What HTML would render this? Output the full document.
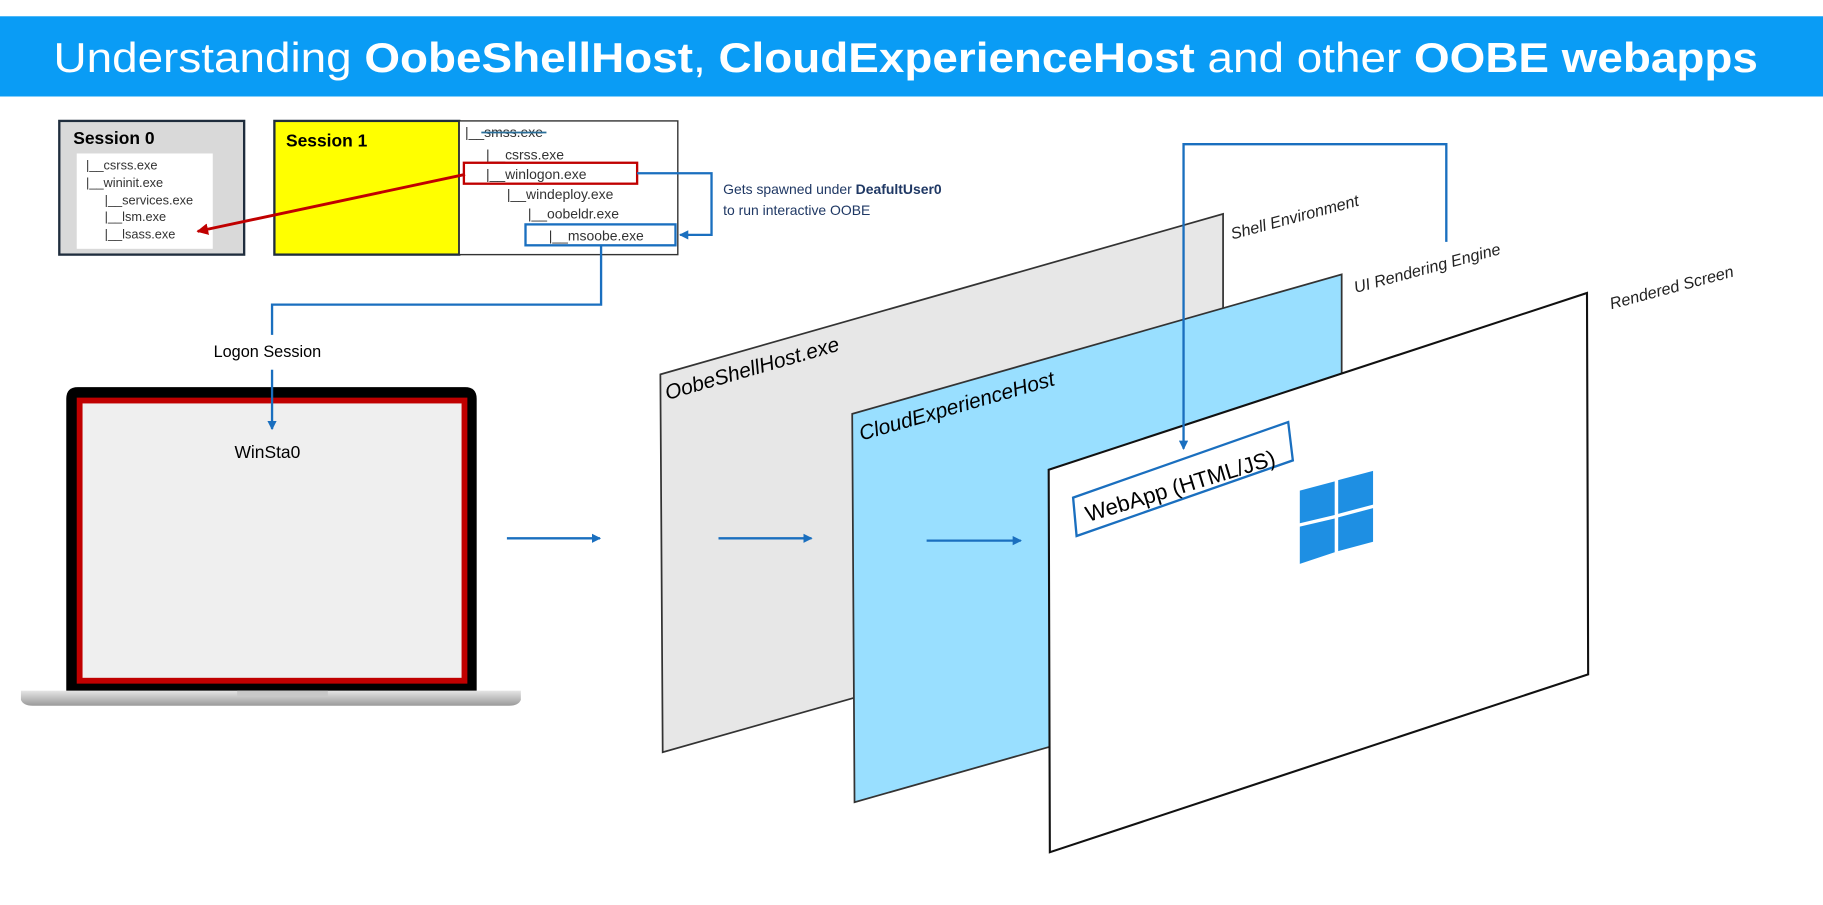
<!DOCTYPE html>
<html><head><meta charset="utf-8"><style>html,body{margin:0;padding:0;background:#fff;overflow:hidden}svg{display:block}text{font-family:"Liberation Sans",Arial,sans-serif}</style></head>
<body>
<svg width="1823" height="905" viewBox="0 0 1568 778.4" preserveAspectRatio="none" xmlns="http://www.w3.org/2000/svg">
<defs>
<marker id="ab" markerWidth="8" markerHeight="8" refX="7" refY="4" orient="auto" markerUnits="userSpaceOnUse"><path d="M0,0 L8,4 L0,8 z" fill="#1a6fbf"/></marker>
<marker id="ar" markerWidth="10" markerHeight="10" refX="9" refY="5" orient="auto" markerUnits="userSpaceOnUse"><path d="M0,0 L10,5 L0,10 z" fill="#c00000"/></marker>
<linearGradient id="base" x1="0" y1="0" x2="0" y2="1"><stop offset="0" stop-color="#e6e6e6"/><stop offset="1" stop-color="#9a9a9a"/></linearGradient>
</defs>
<rect x="0" y="14" width="1568" height="69" fill="#0a9cf5"/>
<text x="779" y="62" font-size="36" fill="#fff" text-anchor="middle" textLength="1466" lengthAdjust="spacingAndGlyphs">Understanding <tspan font-weight="bold">OobeShellHost</tspan>, <tspan font-weight="bold">CloudExperienceHost</tspan> and other <tspan font-weight="bold">OOBE webapps</tspan></text>

<rect x="51" y="104" width="159" height="115" fill="#d9d9d9" stroke="#1f2d3d" stroke-width="2"/>
<text x="63" y="124" font-size="15" font-weight="bold">Session 0</text>
<rect x="66" y="132" width="117" height="82" fill="#fff"/>
<g font-size="11" fill="#333">
<text x="74" y="146">|__csrss.exe</text><text x="74" y="161">|__wininit.exe</text>
<text x="90" y="176">|__services.exe</text><text x="90" y="190">|__lsm.exe</text><text x="90" y="205">|__lsass.exe</text>
</g>
<rect x="236" y="104" width="159" height="115" fill="#ffff00" stroke="#1f2d3d" stroke-width="2"/>
<text x="246" y="126" font-size="15" font-weight="bold">Session 1</text>
<rect x="395" y="104" width="188" height="115" fill="#fff" stroke="#333" stroke-width="1.2"/>
<g font-size="12" fill="#333">
<text x="400" y="118">|__smss.exe</text>
<line x1="414" y1="114" x2="470" y2="114" stroke="#2a6f9a" stroke-width="1.5"/>
<text x="418" y="137">|__csrss.exe</text><text x="418" y="154">|__winlogon.exe</text>
<text x="436" y="171">|__windeploy.exe</text><text x="454" y="188">|__oobeldr.exe</text><text x="472" y="207">|__msoobe.exe</text>
</g>
<rect x="399" y="140" width="149" height="18" fill="none" stroke="#c00000" stroke-width="2"/>
<rect x="452" y="193" width="129" height="18" fill="none" stroke="#1a6fbf" stroke-width="2"/>
<line x1="400" y1="150" x2="170" y2="199" stroke="#c00000" stroke-width="2.5" marker-end="url(#ar)"/>
<polyline points="548,149 612,149 612,202 585,202" fill="none" stroke="#1a6fbf" stroke-width="2" marker-end="url(#ab)"/>
<text x="622" y="167" font-size="12" fill="#1f3864">Gets spawned under <tspan font-weight="bold">DeafultUser0</tspan></text>
<text x="622" y="185" font-size="12" fill="#1f3864">to run interactive OOBE</text>
<polyline points="517,211 517,262 234,262 234,288" fill="none" stroke="#1a6fbf" stroke-width="2"/>
<text x="230" y="307" font-size="14" text-anchor="middle">Logon Session</text>

<path d="M57,595 L57,343 Q57,333 67,333 L400,333 Q410,333 410,343 L410,595 z" fill="#000"/>
<rect x="68.5" y="344.5" width="331" height="241" fill="#efefef" stroke="#c00000" stroke-width="5"/>
<text x="230" y="394" font-size="15" text-anchor="middle">WinSta0</text>
<path d="M18,594 L448,594 L448,602 Q446,607 438,607 L28,607 Q20,607 18,602 z" fill="url(#base)"/>
<rect x="204" y="594" width="78" height="5" fill="#c8c8c8"/>
<line x1="234" y1="318" x2="234" y2="369" stroke="#1a6fbf" stroke-width="2" marker-end="url(#ab)"/>

<polygon points="568,322 1052,184 1052,510 570,647" fill="#e7e7e7" stroke="#333" stroke-width="1.5"/>
<polygon points="733,356 1154,236 1154,571 735,690" fill="#99dfff" stroke="#333" stroke-width="1.5"/>
<polygon points="902,404 1365,252 1366,580 903,733" fill="#fff" stroke="#111" stroke-width="1.8"/>

<g stroke="#1a6fbf" stroke-width="2">
<line x1="436" y1="463" x2="516" y2="463" marker-end="url(#ab)"/>
<line x1="618" y1="463" x2="698" y2="463" marker-end="url(#ab)"/>
<line x1="797" y1="465" x2="878" y2="465" marker-end="url(#ab)"/>
</g>

<g font-size="18" font-style="italic">
<text transform="translate(574,344) rotate(-16)">OobeShellHost.exe</text>
<text transform="translate(741,379) rotate(-16)">CloudExperienceHost</text>
</g>
<g font-size="14" font-style="italic" fill="#222">
<text transform="translate(1060,206) rotate(-15)">Shell Environment</text>
<text transform="translate(1166,252) rotate(-15)">UI Rendering Engine</text>
<text transform="translate(1386,266) rotate(-15)">Rendered Screen</text>
</g>
<polygon points="923,428 1108,363 1112,396 926,461" fill="#fff" stroke="#1a6fbf" stroke-width="2"/>
<text transform="translate(936,449) rotate(-17)" font-size="19">WebApp (HTML/JS)</text>
<polyline points="1244,208 1244,124 1018,124 1018,386" fill="none" stroke="#1a6fbf" stroke-width="2" marker-end="url(#ab)"/>
<g fill="#1e8fe3">
<polygon points="1118,422 1148,414 1148,443 1118,450"/>
<polygon points="1151,413 1181,405 1181,434 1151,442"/>
<polygon points="1118,453 1148,446 1148,475 1118,485"/>
<polygon points="1151,445 1181,437 1181,466 1151,474"/>
</g>
</svg>
</body></html>
